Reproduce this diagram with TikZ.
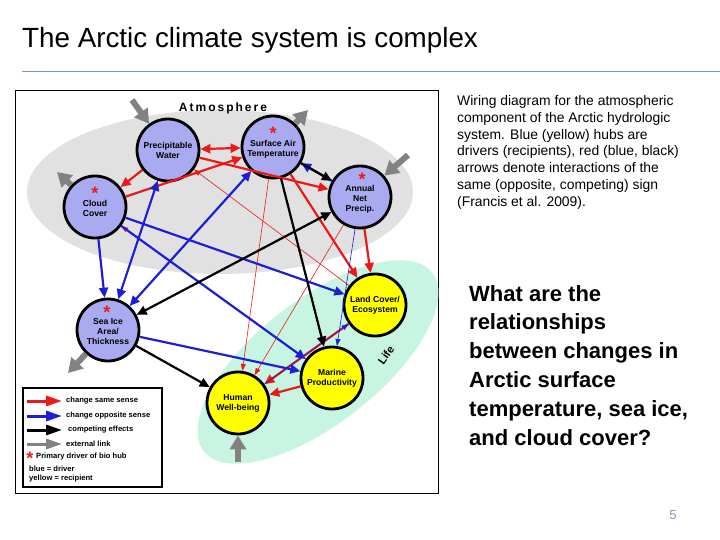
\documentclass[tikz,border=0pt]{standalone}
\usepackage{fontspec}
\setmainfont{Liberation Sans}
\usetikzlibrary{arrows.meta}
\definecolor{hubblue}{RGB}{170,170,240}
\definecolor{hubyel}{RGB}{255,255,0}
\definecolor{atm}{RGB}{225,225,225}
\definecolor{lifeg}{RGB}{200,245,225}
\definecolor{rd}{RGB}{235,25,25}
\definecolor{bl}{RGB}{30,30,215}
\definecolor{gr}{RGB}{130,130,130}
\definecolor{rule}{RGB}{120,150,190}
\begin{document}
\begin{tikzpicture}[x=1pt,y=-1pt,
 hub/.style={circle,draw=black,line width=2.8pt,minimum size=62pt,inner sep=0pt,align=center,font=\bfseries\fontsize{8.6}{10}\selectfont},
 drv/.style={hub,fill=hubblue},
 rcp/.style={hub,fill=hubyel},
 thk/.style={line width=2.2pt,-{Triangle[length=10pt,width=9pt]}},
 thn/.style={line width=0.6pt,-{Triangle[length=7pt,width=5pt]}},
 dbl/.style={line width=2.2pt,{Triangle[length=10pt,width=9pt]}-{Triangle[length=10pt,width=9pt]}},
 ext/.style={gr,line width=6pt,-{Triangle[length=14pt,width=16pt]}},
 star/.style={text=rd,font=\bfseries\fontsize{18}{18}\selectfont,inner sep=0pt},
 lg/.style={anchor=west,font=\bfseries\fontsize{7.6}{8}\selectfont,inner sep=0pt}]
\useasboundingbox (0,0) rectangle (720,540);
\node[anchor=west,font=\fontsize{27.8}{30}\selectfont,inner sep=0pt] (title) at (22,40) {The Arctic climate system is complex};
\draw[rule,line width=1pt] (22,72) -- (720,72);
\draw[black,line width=0.6pt] (15,90) rectangle (438,493);
\fill[atm] (220,192) ellipse [x radius=193,y radius=82];
\fill[lifeg,rotate around={38:(318,362)}] (318,362) ellipse [x radius=145,y radius=62];
\node[font=\bfseries\fontsize{12}{13}\selectfont] (atmlab) at (223,108) {A\,t\,m\,o\,s\,p\,h\,e\,r\,e};
\node[font=\bfseries\fontsize{11}{12}\selectfont,rotate=55] (lifelab) at (386,355) {Life};
\node[drv] (pw) at (168,150) {Precipitable\\Water};
\node[drv] (sat) at (273,147) {\\Surface Air\\Temperature};
\node[drv] (anp) at (360,197) {\\Annual\\Net\\Precip.};
\node[drv] (cc) at (95,207) {\\Cloud\\Cover};
\node[drv] (si) at (108,330) {\\Sea Ice\\Area/\\Thickness};
\node[star] (s1) at (273,133) {*};
\node[star] (s2) at (362,179) {*};
\node[star] (s3) at (95,193) {*};
\node[star] (s4) at (107,312) {*};
\node[rcp] (lc) at (375,305) {Land Cover/\\Ecosystem};
\node[rcp] (mp) at (332,378) {Marine\\Productivity};
\node[rcp] (hw) at (238,403) {Human\\Well-being};
% external links
\coordinate (e1) at (132,100); \draw[ext] (e1) -- (pw);
\coordinate (e2) at (308,110); \draw[ext] (sat) -- (e2);
\coordinate (e3) at (408,155); \draw[ext] (e3) -- (anp);
\coordinate (e4) at (57,172); \draw[ext] (cc) -- (e4);
\coordinate (e5) at (68,373); \draw[ext] (si) -- (e5);
\coordinate (e6) at (238,462); \draw[ext] (e6) -- (hw);
% red
\draw[rd,dbl] (pw) -- (sat);
\draw[rd,thk] (pw) -- (cc);
\draw[rd,thk] (cc) -- (sat);
\draw[rd,thk] (pw) -- (anp);
\draw[rd,thk] (sat) -- (lc);
\draw[rd,thk] (anp) -- (lc);
\draw[rd,thk] (lc) -- (hw);
\draw[rd,thk] (mp) -- (hw);
\draw[rd,thn] (sat) -- (hw);
\draw[rd,thn] (anp) -- (hw);
\draw[rd,thn] (lc) -- (pw);
\draw[rd,thn] (mp) -- (cc);
% blue
\draw[bl,thk] (cc) -- (si);
\draw[bl,dbl] (pw) -- (si);
\draw[bl,dbl] (sat) -- (si);
\draw[bl,thk] (cc) -- (lc);
\draw[bl,thk] (cc) -- (mp);
\draw[bl,thk] (si) -- (mp);
\draw[bl,thk] (anp) -- (sat);
\draw[bl,thn] (anp) -- (mp);
\draw[bl,thn] (hw) -- (lc);
% black
\draw[black,thk] (sat) -- (anp);
\draw[black,thk] (sat) -- (mp);
\draw[black,dbl] (anp) -- (si);
\draw[black,thk] (si) -- (hw);
% legend
\draw[black,line width=1.2pt,fill=white] (23,388) rectangle (162,487);
\coordinate (la1) at (27,401); \coordinate (lb1) at (62,401);
\coordinate (la2) at (27,416); \coordinate (lb2) at (62,416);
\coordinate (la3) at (27,430); \coordinate (lb3) at (62,430);
\coordinate (la4) at (27,444); \coordinate (lb4) at (62,444);
\draw[rd,line width=3pt,-{Triangle[length=16pt,width=10pt]}] (la1) -- (lb1);
\draw[bl,line width=3pt,-{Triangle[length=16pt,width=10pt]}] (la2) -- (lb2);
\draw[black,line width=3pt,-{Triangle[length=16pt,width=10pt]}] (la3) -- (lb3);
\draw[gr,line width=3pt,-{Triangle[length=16pt,width=10pt]}] (la4) -- (lb4);
\node[lg] (l1) at (66,401) {change same sense};
\node[lg] (l2) at (66,416) {change opposite sense};
\node[lg] (l3) at (68,430) {competing effects};
\node[lg] (l4) at (66,444) {external link};
\node[star] (ls) at (30,458) {*};
\node[lg] (l5) at (36,457) {Primary driver of bio hub};
\node[lg] (l6) at (29,469) {blue = driver};
\node[lg] (l7) at (29,479) {yellow = recipient};
% right text
\node[anchor=north west,align=left,font=\fontsize{13.9}{16.9}\selectfont,inner sep=0pt] (cap) at (457,95) {Wiring diagram for the atmospheric\\component of the Arctic hydrologic\\system. Blue (yellow) hubs are\\drivers (recipients), red (blue, black)\\arrows denote interactions of the\\same (opposite, competing) sign\\(Francis et al. 2009).};
\node[anchor=north west,align=left,font=\bfseries\fontsize{22}{28.8}\selectfont,inner sep=0pt] (q) at (469,285) {What are the\\relationships\\between changes in\\Arctic surface\\temperature, sea ice,\\and cloud cover?};
\node[text=rule,font=\fontsize{13}{14}\selectfont] (pg) at (673,515) {5};
\end{tikzpicture}
\end{document}
